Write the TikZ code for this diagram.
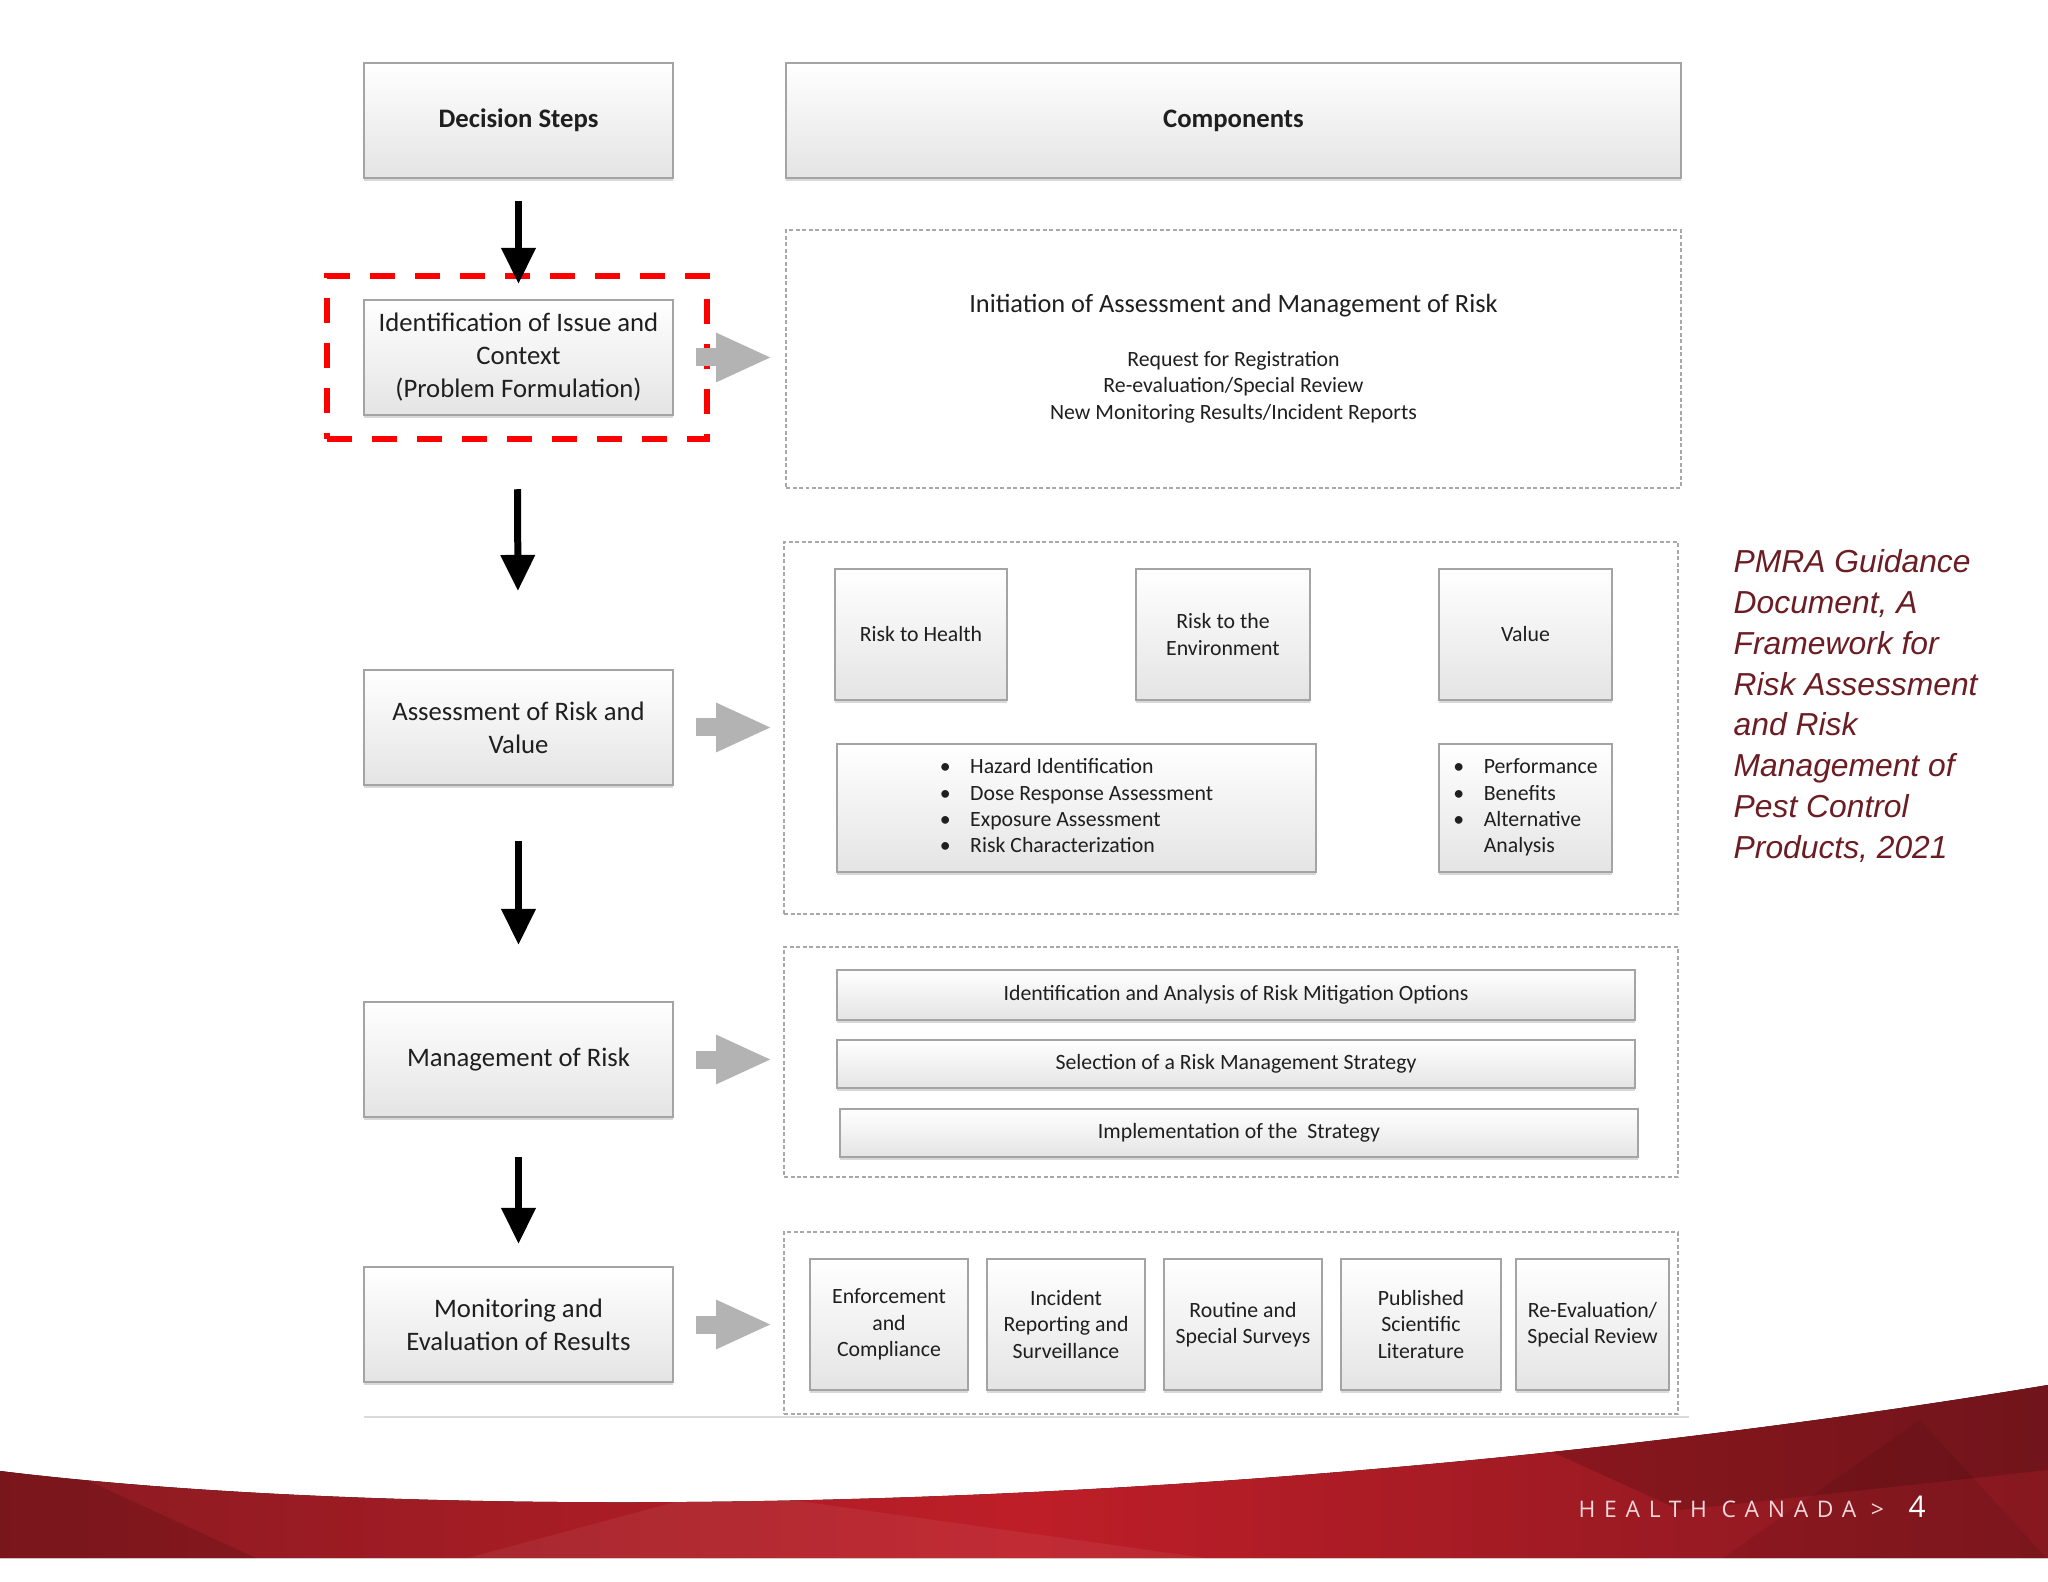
\documentclass[tikz,border=0pt]{standalone}
\usepackage{fontspec}
\setmainfont{Carlito}
\newfontfamily\citefont{Liberation Sans}
\newfontfamily\footfont[LetterSpace=38]{Open Sans}
\usetikzlibrary{arrows.meta,shadows}

\definecolor{boxline}{HTML}{A4A4A4}
\definecolor{boxfill}{HTML}{E4E4E4}
\definecolor{zoneline}{HTML}{A8A8A8}
\definecolor{arrowgray}{HTML}{B3B3B3}
\definecolor{citered}{HTML}{6B1D23}
\definecolor{footpink}{HTML}{F3D6D8}
\definecolor{bandleft}{HTML}{8A1A21}
\definecolor{bandmid}{HTML}{BE1E28}
\definecolor{bandright}{HTML}{861820}

\begin{document}
\begin{tikzpicture}
    \tikzstyle{every node}=[font=\fontsize{6.2}{7.5}\selectfont, text=black!88, align=center, inner sep=1pt]
    \tikzstyle{box}=[draw=boxline, line width=0.6pt, top color=white, bottom color=boxfill, drop shadow={shadow xshift=0pt, shadow yshift=-0.8pt, opacity=0.3}]
    \tikzstyle{stepbox}=[box, minimum width=3.09cm, minimum height=1.15cm, font=\fontsize{7.6}{9.4}\selectfont]
    \tikzstyle{zone}=[draw=zoneline, line width=0.45pt, dash pattern=on 0.04cm off 0.025cm, fill=white]
    \tikzstyle{focusbox}=[draw=red, line width=0.065cm, dash pattern=on 0.25cm off 0.2cm]
    \tikzstyle{flow}=[black, line width=0.07cm, -{Triangle[width=3.3mm,length=3.6mm]}]
    \tikzstyle{feed}=[arrowgray, line width=0.18cm, -{Triangle[width=4.5mm,length=5.6mm]}]

    \useasboundingbox (0,0) rectangle (20.48,-15.82);
    \fill[white] (0,0) rectangle (20.48,-15.82);

    \fill[left color=bandleft, right color=bandright, middle color=bandmid] (0,-14.71) .. controls (4,-15.2) and (12,-15.25) .. (20.48,-13.85) -- (20.48,-15.58) -- (0,-15.58) -- cycle;
    \begin{scope}
        \clip (0,-14.71) .. controls (4,-15.2) and (12,-15.25) .. (20.48,-13.85) -- (20.48,-15.58) -- (0,-15.58) -- cycle;
        \fill[black, opacity=0.15] (13.5,-13.6) -- (20.48,-13.6) -- (20.48,-14.7) -- (16.8,-15.1) -- cycle;
        \fill[black, opacity=0.12] (0,-14.4) -- (2.6,-15.6) -- (0,-15.6) -- cycle;
        \fill[white, opacity=0.06] (4.6,-15.6) -- (7.2,-14.9) -- (12.2,-15.6) -- cycle;
        \fill[black, opacity=0.08] (17.2,-15.6) -- (19.2,-14.2) -- (20.48,-15.6) -- cycle;
    \end{scope}

    \draw[black!15, line width=0.02cm] (3.64,-14.17) -- (16.89,-14.17);

    \node[stepbox, font=\fontsize{7.6}{9.4}\selectfont\bfseries] (steps) at (5.185,-1.205) {Decision Steps};
    \node[stepbox] (ident) at (5.185,-3.575) {Identification of Issue and\\Context\\(Problem Formulation)};
    \node[stepbox] (assess) at (5.185,-7.275) {Assessment of Risk and\\Value};
    \node[stepbox] (manage) at (5.185,-10.595) {Management of Risk};
    \node[stepbox] (monitor) at (5.185,-13.245) {Monitoring and\\Evaluation of Results};

    \node[focusbox, minimum width=3.8cm, minimum height=1.63cm] (focus) at (5.17,-3.575) {};

    \node[box, minimum width=8.95cm, minimum height=1.15cm, font=\fontsize{7.6}{9.4}\selectfont\bfseries] (comp) at (12.335,-1.205) {Components};

    \node[zone, minimum width=8.95cm, minimum height=2.58cm] (zone1) at (12.335,-3.59) {};
    \node[font=\fontsize{7.5}{9}\selectfont] (initiation) at (12.335,-3.06) {Initiation of Assessment and Management of Risk};
    \node (sources) at (12.335,-3.87) {Request for Registration\\Re-evaluation/Special Review\\New Monitoring Results/Incident Reports};

    \node[zone, minimum width=8.94cm, minimum height=3.72cm] (zone2) at (12.31,-7.28) {};
    \node[box, minimum width=1.72cm, minimum height=1.31cm] (health) at (9.21,-6.345) {Risk to Health};
    \node[box, minimum width=1.74cm, minimum height=1.31cm] (environ) at (12.23,-6.345) {Risk to the\\Environment};
    \node[box, minimum width=1.73cm, minimum height=1.31cm] (value) at (15.255,-6.345) {Value};
    \node[box, minimum width=4.79cm, minimum height=1.28cm] (hazards) at (10.765,-8.08) {\begin{tabular}{@{}l@{\hspace{0.9em}}l@{}}\textbullet & Hazard Identification\\ \textbullet & Dose Response Assessment\\ \textbullet & Exposure Assessment\\ \textbullet & Risk Characterization\end{tabular}};
    \node[box, minimum width=1.73cm, minimum height=1.28cm] (benefits) at (15.255,-8.08) {\begin{tabular}{@{}l@{\hspace{0.9em}}l@{}}\textbullet & Performance\\ \textbullet & Benefits\\ \textbullet & Alternative\\ & Analysis\end{tabular}};

    \node[zone, minimum width=8.94cm, minimum height=2.30cm] (zone3) at (12.31,-10.62) {};
    \node[box, minimum width=7.98cm, minimum height=0.50cm] (options) at (12.36,-9.95) {Identification and Analysis of Risk Mitigation Options};
    \node[box, minimum width=7.98cm, minimum height=0.48cm] (strategy) at (12.36,-10.64) {Selection of a Risk Management Strategy};
    \node[box, minimum width=7.98cm, minimum height=0.48cm] (implement) at (12.39,-11.33) {Implementation of the~ Strategy};

    \node[zone, minimum width=8.94cm, minimum height=1.82cm] (zone4) at (12.31,-13.23) {};
    \node[box, minimum width=1.58cm, minimum height=1.31cm] (enforce) at (8.89,-13.245) {Enforcement\\and\\Compliance};
    \node[box, minimum width=1.58cm, minimum height=1.31cm] (incident) at (10.66,-13.245) {Incident\\Reporting and\\Surveillance};
    \node[box, minimum width=1.58cm, minimum height=1.31cm] (surveys) at (12.43,-13.245) {Routine and\\Special Surveys};
    \node[box, minimum width=1.60cm, minimum height=1.31cm] (literature) at (14.21,-13.245) {Published\\Scientific\\Literature};
    \node[box, minimum width=1.53cm, minimum height=1.31cm] (review) at (15.925,-13.245) {Re-Evaluation/\\Special Review};

    \draw[flow, shorten <=0.22cm, shorten >=0.15cm] (steps) -- (ident);
    \draw[flow, shorten <=0.47cm, shorten >=0.78cm] (focus) -- (assess);
    \draw[flow, shorten <=0.55cm, shorten >=0.56cm] (assess) -- (manage);
    \draw[flow, shorten <=0.39cm, shorten >=0.22cm] (manage) -- (monitor);

    \draw[feed, shorten <=0.22cm, shorten >=0.13cm] (ident.east) -- (ident.east -| zone1.west);
    \draw[feed, shorten <=0.22cm, shorten >=0.11cm] (assess.east) -- (assess.east -| zone2.west);
    \draw[feed, shorten <=0.22cm, shorten >=0.11cm] (manage.east) -- (manage.east -| zone3.west);
    \draw[feed, shorten <=0.22cm, shorten >=0.11cm] (monitor.east) -- (monitor.east -| zone4.west);

    \node[anchor=north west, align=left, inner sep=0pt, text=citered, font=\citefont\itshape\fontsize{9.05}{11.6}\selectfont] (cite) at (17.33,-5.49) {PMRA Guidance\\Document, A\\Framework for\\Risk Assessment\\and Risk\\Management of\\Pest Control\\Products, 2021};

    \node[anchor=base west, inner sep=0pt, text=footpink, font=\footfont\fontsize{6.5}{7.5}\selectfont] (brand) at (15.78,-15.17) {HEALTH CANADA >};
    \node[anchor=base west, inner sep=0pt, text=white, font=\footfont\fontsize{8.5}{9.5}\selectfont] (page) at (19.08,-15.17) {4};
\end{tikzpicture}
\end{document}
